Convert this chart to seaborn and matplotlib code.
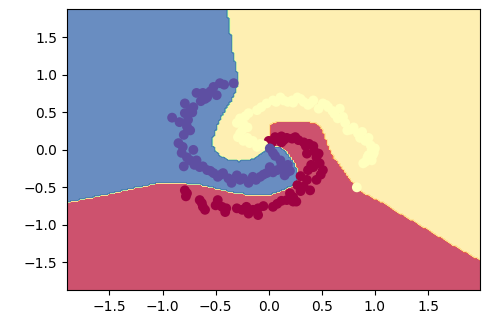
import numpy as np
import pandas as pd
import matplotlib
matplotlib.use("Agg")
import matplotlib.pyplot as plt
from matplotlib.path import Path
import seaborn as sns

# ---- data points ----
class0_x = [0.00, 0.03, 0.08, 0.12, 0.17, 0.22, 0.28, 0.33, 0.38, 0.42, 0.36, 0.45, 0.43, 0.42, 0.51, 0.37,
            0.45, 0.39, 0.33, 0.27, 0.23, 0.17, 0.20, 0.08, 0.04, -0.10, -0.10, -0.19, -0.21, -0.25,
            -0.41, -0.44, -0.48, -0.62, -0.65, -0.63, -0.77, -0.79, 0.12, 0.48, 0.30, 0.26,
            0.06, 0.14, 0.25, 0.35, 0.47, 0.40, 0.49, 0.36, 0.30, 0.23, 0.12, -0.05, -0.15, -0.30,
            -0.40, -0.50, -0.60, -0.78]
class0_y = [0.12, 0.10, 0.15, 0.18, 0.16, 0.15, 0.13, 0.10, 0.08, 0.05, -0.05, -0.10, -0.02, -0.23, -0.27, -0.27,
            -0.40, -0.54, -0.49, -0.47, -0.63, -0.67, -0.58, -0.72, -0.76, -0.78, -0.87, -0.85, -0.76, -0.80,
            -0.83, -0.76, -0.67, -0.76, -0.67, -0.71, -0.58, -0.54, 0.10, -0.18, -0.35, -0.69,
            0.17, 0.13, 0.17, 0.05, -0.05, -0.20, -0.33, -0.40, -0.55, -0.69, -0.68, -0.75, -0.80, -0.78,
            -0.78, -0.74, -0.80, -0.62]

class1_x = [-0.05, -0.11, -0.18, -0.20, -0.29, -0.25, -0.20, -0.30, -0.27, -0.19, -0.11, -0.02, 0.04, 0.11,
            0.18, 0.27, 0.33, 0.42, 0.47, 0.51, 0.56, 0.67, 0.65, 0.70, 0.74, 0.80, 0.88, 0.86, 0.94, 0.96,
            1.00, 0.98, 0.93, 0.94, 0.91, 0.97, 0.89, 0.83, -0.15, 0.22, 0.37, 0.60,
            -0.08, -0.24, -0.27, -0.24, -0.22, -0.07, 0.07, 0.14, 0.23, 0.30, 0.39, 0.54, 0.62, 0.72,
            0.77, 0.84, 0.91, 0.97, 0.99]
class1_y = [0.06, 0.04, 0.09, 0.16, 0.17, 0.26, 0.30, 0.36, 0.42, 0.49, 0.53, 0.62, 0.66, 0.70,
            0.64, 0.70, 0.64, 0.66, 0.55, 0.62, 0.57, 0.55, 0.42, 0.44, 0.26, 0.30, 0.24, 0.16, 0.16, 0.06,
            0.02, -0.07, -0.10, -0.07, -0.16, -0.14, -0.18, -0.50, 0.12, 0.66, 0.60, 0.52,
            0.08, 0.12, 0.22, 0.35, 0.45, 0.57, 0.64, 0.66, 0.63, 0.68, 0.62, 0.60, 0.48, 0.36,
            0.27, 0.22, 0.12, 0.00, -0.04]

class2_x = [0.01, 0.04, 0.11, 0.15, 0.14, 0.08, 0.01, -0.02, -0.08, -0.15, -0.19, -0.24, -0.30, -0.35,
            -0.43, -0.48, -0.52, -0.58, -0.65, -0.68, -0.74, -0.71, -0.82, -0.81, -0.85, -0.74, -0.77,
            -0.84, -0.91, -0.79, -0.74, -0.71, -0.79, -0.68, -0.62, -0.58, -0.52, -0.49, -0.46, -0.33,
            0.18, 0.20, -0.80, -0.60,
            0.06, 0.12, 0.17, 0.04, -0.05, -0.12, -0.27, -0.38, -0.45, -0.55, -0.62, -0.70, -0.77,
            -0.80, -0.76, -0.72, -0.64, -0.55, -0.42]
class2_y = [0.02, -0.04, -0.14, -0.34, -0.23, -0.27, -0.23, -0.31, -0.36, -0.36, -0.44, -0.38, -0.34, -0.44,
            -0.31, -0.36, -0.31, -0.27, -0.23, -0.14, -0.14, 0.00, -0.04, 0.04, 0.09, 0.26, 0.31,
            0.37, 0.43, 0.49, 0.53, 0.57, 0.62, 0.76, 0.76, 0.70, 0.84, 0.73, 0.89, 0.89,
            -0.20, -0.28, -0.22, 0.68,
            -0.08, -0.19, -0.30, -0.30, -0.33, -0.40, -0.40, -0.38, -0.33, -0.28, -0.22, -0.20, -0.10,
            0.20, 0.40, 0.50, 0.65, 0.78, 0.87]

# ---- decision regions (boundary polylines) ----
blue_x = [-2.10, -0.39, -0.39, -0.36, -0.34, -0.30, -0.29, -0.33, -0.38, -0.44, -0.49, -0.52, -0.53, -0.50, -0.45,
          -0.37, -0.28, -0.20, -0.12, -0.06, -0.02, 0.02, 0.10, 0.17, 0.23, 0.27, 0.28, 0.25, 0.14, 0.01,
          -0.18, -0.37, -0.62, -0.93, -1.00, -1.30, -1.55, -1.90, -2.10]
blue_y = [2.10, 2.10, 1.88, 1.55, 1.30, 1.05, 0.89, 0.72, 0.60, 0.45, 0.30, 0.17, 0.08, -0.02, -0.09,
          -0.14, -0.15, -0.14, -0.10, -0.05, 0.02, 0.06, 0.04, -0.04, -0.15, -0.28, -0.36, -0.45, -0.54, -0.60,
          -0.60, -0.56, -0.47, -0.43, -0.43, -0.52, -0.60, -0.70, -0.74]

red_x = [-2.10, -2.10, -1.90, -1.00, -0.20, 0.10, 0.05, 0.02, 0.01, 0.02, 0.06, 0.20, 0.39, 0.45, 0.49, 0.52,
         0.55, 0.61, 0.69, 0.77, 0.86, 0.98, 1.12, 1.24, 1.40, 1.55, 1.75, 1.99, 2.20, 2.20]
red_y = [-2.10, -0.74, -0.70, -0.43, -0.35, -0.15, 0.03, 0.06, 0.20, 0.34, 0.37, 0.38, 0.37, 0.36, 0.30, 0.22,
         0.10, -0.10, -0.23, -0.40, -0.54, -0.64, -0.73, -0.85, -0.98, -1.11, -1.28, -1.47, -1.64, -2.10]

x_min, x_max = -1.90, 1.99
y_min, y_max = -1.87, 1.88

# ---- build class grid from region polygons ----
h = 0.02
xx, yy = np.meshgrid(np.arange(x_min - 0.04, x_max + 0.04, h), np.arange(y_min - 0.04, y_max + 0.04, h))
pts = np.c_[xx.ravel(), yy.ravel()]
Z = np.ones(pts.shape[0])
Z[Path(np.c_[red_x, red_y]).contains_points(pts)] = 0
Z[Path(np.c_[blue_x, blue_y]).contains_points(pts)] = 2
Z = Z.reshape(xx.shape)

df = pd.DataFrame({
    "x": class0_x + class1_x + class2_x,
    "y": class0_y + class1_y + class2_y,
    "cls": [0] * len(class0_x) + [1] * len(class1_x) + [2] * len(class2_x),
})

cmap = plt.cm.Spectral
fig = plt.figure(figsize=(5.03, 3.31), dpi=100)
ax = fig.add_axes([67 / 503, 41 / 331, 413 / 503, 281 / 331])
ax.contourf(xx, yy, Z, cmap=cmap, alpha=0.8)
sns.scatterplot(data=df, x="x", y="y", hue="cls",
                palette={0: cmap(0.0), 1: cmap(0.5), 2: cmap(1.0)},
                s=50, linewidth=0, legend=False, ax=ax)
ax.set_xlim(x_min, x_max)
ax.set_ylim(y_min, y_max)
ax.set_xlabel("")
ax.set_ylabel("")
ax.set_xticks([-1.5, -1.0, -0.5, 0.0, 0.5, 1.0, 1.5])
ax.set_yticks([-1.5, -1.0, -0.5, 0.0, 0.5, 1.0, 1.5])
ax.tick_params(labelsize=10)
fig.savefig("out.png", dpi=100)
